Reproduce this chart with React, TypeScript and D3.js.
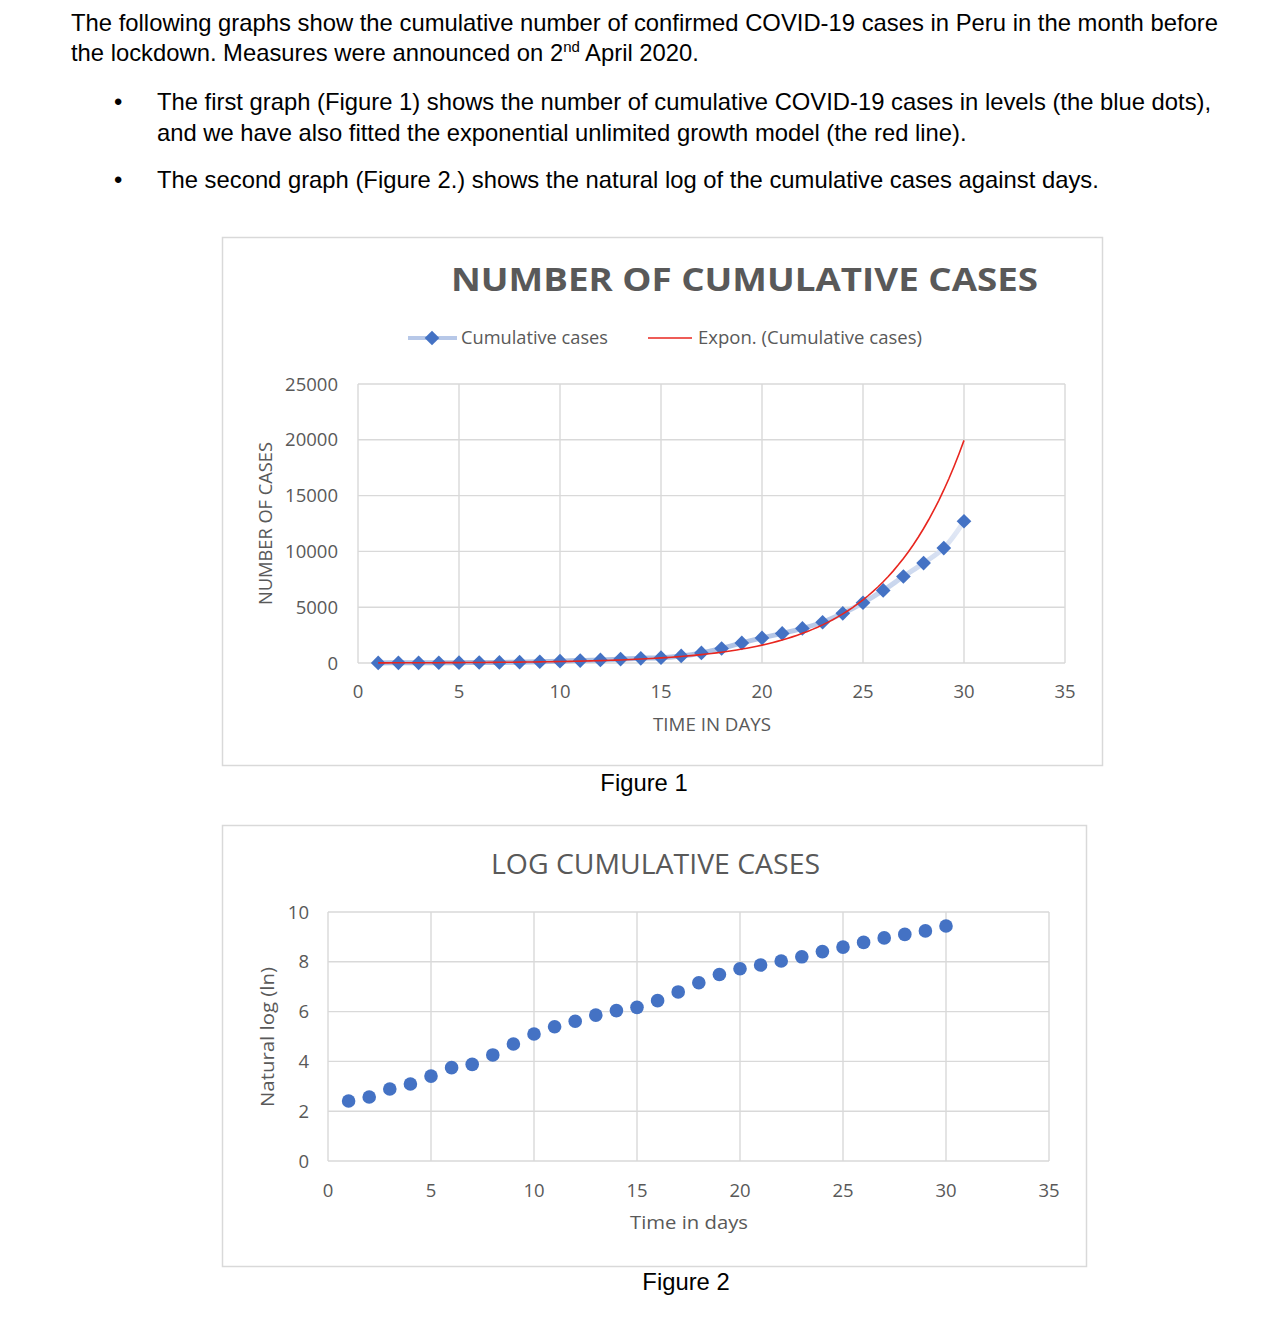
import React, { useRef, useEffect } from "react";
import * as d3 from "d3";

// day number since the start of the series
const days = [
  1, 2, 3, 4, 5, 6, 7, 8, 9, 10, 11, 12, 13, 14, 15, 16, 17, 18, 19, 20, 21,
  22, 23, 24, 25, 26, 27, 28, 29, 30,
];

// cumulative confirmed cases
const cumulativeCases = [
  11, 13, 18, 22, 30, 43, 48, 71, 110, 164, 219, 273, 351, 420, 478, 630, 900,
  1300, 1800, 2250, 2650, 3100, 3650, 4450, 5400, 6500, 7750, 8950, 10300,
  12700,
];

// natural log of cumulative cases
const lnCases = [
  2.41, 2.57, 2.89, 3.09, 3.41, 3.75, 3.88, 4.26, 4.7, 5.1, 5.39, 5.61, 5.86,
  6.04, 6.17, 6.44, 6.79, 7.16, 7.49, 7.72, 7.87, 8.03, 8.2, 8.41, 8.59, 8.78,
  8.96, 9.1, 9.24, 9.44,
];

const dayTicks = [0, 5, 10, 15, 20, 25, 30, 35];
const caseTicks = [0, 5000, 10000, 15000, 20000, 25000];
const lnTicks = [0, 2, 4, 6, 8, 10];

const BLUE = "#4472C4";
const RED = "#E8261F";
const GRID = "#D9D9D9";
const TEXT = "#595959";
const CHART_FONT = "'Open Sans', 'Noto Sans', sans-serif";
const BODY_FONT = "'Liberation Sans', Arial, sans-serif";

const App = () => {
  const svgRef = useRef(null);

  useEffect(() => {
    const svg = d3.select(svgRef.current);
    svg.selectAll("*").remove();

    // ---------- intro text ----------
    const body = svg
      .append("g")
      .attr("font-family", BODY_FONT)
      .attr("font-size", 23.8)
      .attr("fill", "#000");

    body
      .append("text")
      .attr("x", 71)
      .attr("y", 31)
      .attr("textLength", 1147)
      .attr("lengthAdjust", "spacingAndGlyphs")
      .text(
        "The following graphs show the cumulative number of confirmed COVID-19 cases in Peru in the month before",
      );
    const l2 = body.append("text").attr("x", 71).attr("y", 61);
    l2.append("tspan").text("the lockdown. Measures were announced on 2");
    l2.append("tspan").attr("font-size", 15).attr("dy", -9).text("nd");
    l2.append("tspan").attr("dy", 9).text(" April 2020.");

    [
      [110, "The first graph (Figure 1) shows the number of cumulative COVID-19 cases in levels (the blue dots),"],
      [141, "and we have also fitted the exponential unlimited growth model (the red line)."],
      [188, "The second graph (Figure 2.) shows the natural log of the cumulative cases against days."],
    ].forEach(([y, t]) => {
      body.append("text").attr("x", 157).attr("y", y).text(t as string);
    });
    [110, 188].forEach((y) => {
      body.append("text").attr("x", 114).attr("y", y).text("•");
    });

    // ---------- Figure 1 ----------
    const g1 = svg.append("g").attr("font-family", CHART_FONT);
    g1.append("rect")
      .attr("x", 222.5)
      .attr("y", 237.5)
      .attr("width", 880)
      .attr("height", 528)
      .attr("fill", "#fff")
      .attr("stroke", GRID)
      .attr("stroke-width", 1.5);

    const x1 = d3.scaleLinear().domain([0, 35]).range([358, 1065]);
    const y1 = d3.scaleLinear().domain([0, 25000]).range([663, 384]);

    const defs = svg.append("defs");
    const grad = defs
      .append("linearGradient")
      .attr("id", "blueLine")
      .attr("gradientUnits", "userSpaceOnUse")
      .attr("x1", 0)
      .attr("x2", 0)
      .attr("y1", y1(0))
      .attr("y2", y1(12700));
    grad.append("stop").attr("offset", "0%").attr("stop-color", "#A9BEE3");
    grad.append("stop").attr("offset", "100%").attr("stop-color", "#E4EAF6");

    g1.selectAll(".vgrid")
      .data(dayTicks)
      .enter()
      .append("line")
      .attr("x1", (d) => x1(d))
      .attr("x2", (d) => x1(d))
      .attr("y1", y1(25000))
      .attr("y2", y1(0))
      .attr("stroke", GRID)
      .attr("stroke-width", 1.4);
    g1.selectAll(".hgrid")
      .data(caseTicks)
      .enter()
      .append("line")
      .attr("x1", x1(0))
      .attr("x2", x1(35))
      .attr("y1", (d) => y1(d))
      .attr("y2", (d) => y1(d))
      .attr("stroke", GRID)
      .attr("stroke-width", 1.4);

    const pts1 = days.map((d, i) => [d, cumulativeCases[i]] as [number, number]);
    const line1 = d3
      .line<[number, number]>()
      .x((d) => x1(d[0]))
      .y((d) => y1(d[1]))
      .curve(d3.curveCatmullRom.alpha(0.5));
    g1.append("path")
      .attr("d", line1(pts1))
      .attr("fill", "none")
      .attr("stroke", "url(#blueLine)")
      .attr("stroke-width", 5)
      .attr("stroke-linecap", "round");

    const diamond = d3.symbol(d3.symbolSquare, 108);
    g1.selectAll(".pt")
      .data(pts1)
      .enter()
      .append("path")
      .attr("d", diamond())
      .attr("transform", (d) => `translate(${x1(d[0])},${y1(d[1])}) rotate(45)`)
      .attr("fill", BLUE);

    // exponential trendline: least squares fit of ln(cases) on days
    const lnY = cumulativeCases.map((v) => Math.log(v));
    const mx = d3.mean(days);
    const my = d3.mean(lnY);
    const b =
      d3.sum(days, (d, i) => (d - mx) * (lnY[i] - my)) /
      d3.sum(days, (d) => (d - mx) * (d - mx));
    const a = my - b * mx;
    const trend = d3
      .range(days[0], days[days.length - 1] + 0.001, 0.25)
      .map((t) => [t, Math.exp(a + b * t)] as [number, number]);
    g1.append("path")
      .attr(
        "d",
        d3
          .line<[number, number]>()
          .x((d) => x1(d[0]))
          .y((d) => y1(d[1]))(trend),
      )
      .attr("fill", "none")
      .attr("stroke", RED)
      .attr("stroke-width", 1.6);

    // axes labels
    g1.selectAll(".xt")
      .data(dayTicks)
      .enter()
      .append("text")
      .attr("x", (d) => x1(d))
      .attr("y", 698)
      .attr("text-anchor", "middle")
      .attr("font-size", 18.5)
      .attr("fill", TEXT)
      .text((d) => d);
    g1.selectAll(".yt")
      .data(caseTicks)
      .enter()
      .append("text")
      .attr("x", 338)
      .attr("y", (d) => y1(d) + 6.5)
      .attr("text-anchor", "end")
      .attr("font-size", 18.5)
      .attr("fill", TEXT)
      .text((d) => d);

    g1.append("text")
      .attr("x", 712)
      .attr("y", 731)
      .attr("text-anchor", "middle")
      .attr("font-size", 18.5)
      .attr("fill", TEXT)
      .attr("textLength", 118)
      .attr("lengthAdjust", "spacingAndGlyphs")
      .text("TIME IN DAYS");
    g1.append("text")
      .attr("transform", "translate(272,523.5) rotate(-90)")
      .attr("text-anchor", "middle")
      .attr("font-size", 18.5)
      .attr("fill", TEXT)
      .attr("textLength", 163)
      .attr("lengthAdjust", "spacingAndGlyphs")
      .text("NUMBER OF CASES");

    g1.append("text")
      .attr("x", 451)
      .attr("y", 291)
      .attr("font-size", 32)
      .attr("font-weight", "bold")
      .attr("fill", TEXT)
      .attr("textLength", 587)
      .attr("lengthAdjust", "spacingAndGlyphs")
      .text("NUMBER OF CUMULATIVE CASES");

    // legend
    g1.append("line")
      .attr("x1", 408)
      .attr("x2", 457)
      .attr("y1", 338)
      .attr("y2", 338)
      .attr("stroke", "#B7C8E8")
      .attr("stroke-width", 4);
    g1.append("path")
      .attr("d", diamond())
      .attr("transform", "translate(432,338) rotate(45)")
      .attr("fill", BLUE);
    g1.append("text")
      .attr("x", 461)
      .attr("y", 344)
      .attr("font-size", 17.5)
      .attr("fill", TEXT)
      .attr("textLength", 147)
      .attr("lengthAdjust", "spacingAndGlyphs")
      .text("Cumulative cases");
    g1.append("line")
      .attr("x1", 648)
      .attr("x2", 692)
      .attr("y1", 338)
      .attr("y2", 338)
      .attr("stroke", RED)
      .attr("stroke-width", 1.6);
    g1.append("text")
      .attr("x", 698)
      .attr("y", 344)
      .attr("font-size", 17.5)
      .attr("fill", TEXT)
      .attr("textLength", 224)
      .attr("lengthAdjust", "spacingAndGlyphs")
      .text("Expon. (Cumulative cases)");

    body
      .append("text")
      .attr("x", 644)
      .attr("y", 791)
      .attr("text-anchor", "middle")
      .text("Figure 1");

    // ---------- Figure 2 ----------
    const g2 = svg.append("g").attr("font-family", CHART_FONT);
    g2.append("rect")
      .attr("x", 222.5)
      .attr("y", 825.5)
      .attr("width", 864)
      .attr("height", 441)
      .attr("fill", "#fff")
      .attr("stroke", GRID)
      .attr("stroke-width", 1.5);

    const x2 = d3.scaleLinear().domain([0, 35]).range([328, 1049]);
    const y2 = d3.scaleLinear().domain([0, 10]).range([1161, 912]);

    g2.selectAll(".vgrid")
      .data(dayTicks)
      .enter()
      .append("line")
      .attr("x1", (d) => x2(d))
      .attr("x2", (d) => x2(d))
      .attr("y1", y2(10))
      .attr("y2", y2(0))
      .attr("stroke", GRID)
      .attr("stroke-width", 1.4);
    g2.selectAll(".hgrid")
      .data(lnTicks)
      .enter()
      .append("line")
      .attr("x1", x2(0))
      .attr("x2", x2(35))
      .attr("y1", (d) => y2(d))
      .attr("y2", (d) => y2(d))
      .attr("stroke", GRID)
      .attr("stroke-width", 1.4);

    g2.selectAll(".dot")
      .data(days)
      .enter()
      .append("circle")
      .attr("cx", (d) => x2(d))
      .attr("cy", (d, i) => y2(lnCases[i]))
      .attr("r", 6.8)
      .attr("fill", BLUE);

    g2.selectAll(".xt")
      .data(dayTicks)
      .enter()
      .append("text")
      .attr("x", (d) => x2(d))
      .attr("y", 1197)
      .attr("text-anchor", "middle")
      .attr("font-size", 18.5)
      .attr("fill", TEXT)
      .text((d) => d);
    g2.selectAll(".yt")
      .data(lnTicks)
      .enter()
      .append("text")
      .attr("x", 309)
      .attr("y", (d) => y2(d) + 6.5)
      .attr("text-anchor", "end")
      .attr("font-size", 18.5)
      .attr("fill", TEXT)
      .text((d) => d);

    g2.append("text")
      .attr("x", 689)
      .attr("y", 1229)
      .attr("text-anchor", "middle")
      .attr("font-size", 19)
      .attr("fill", TEXT)
      .attr("textLength", 118)
      .attr("lengthAdjust", "spacingAndGlyphs")
      .text("Time in days");
    g2.append("text")
      .attr("transform", "translate(274,1037) rotate(-90)")
      .attr("text-anchor", "middle")
      .attr("font-size", 19)
      .attr("fill", TEXT)
      .attr("textLength", 140)
      .attr("lengthAdjust", "spacingAndGlyphs")
      .text("Natural log (ln)");

    g2.append("text")
      .attr("x", 491)
      .attr("y", 874)
      .attr("font-size", 28)
      .attr("fill", TEXT)
      .attr("textLength", 329)
      .attr("lengthAdjust", "spacingAndGlyphs")
      .text("LOG CUMULATIVE CASES");

    body
      .append("text")
      .attr("x", 686)
      .attr("y", 1290)
      .attr("text-anchor", "middle")
      .text("Figure 2");
  }, []);

  return (
    <div style={{ position: "absolute", left: 0, top: 0 }}>
      <svg
        ref={svgRef}
        width={1280}
        height={1334}
        style={{ display: "block", background: "#fff" }}
      ></svg>
    </div>
  );
};

export default App;
